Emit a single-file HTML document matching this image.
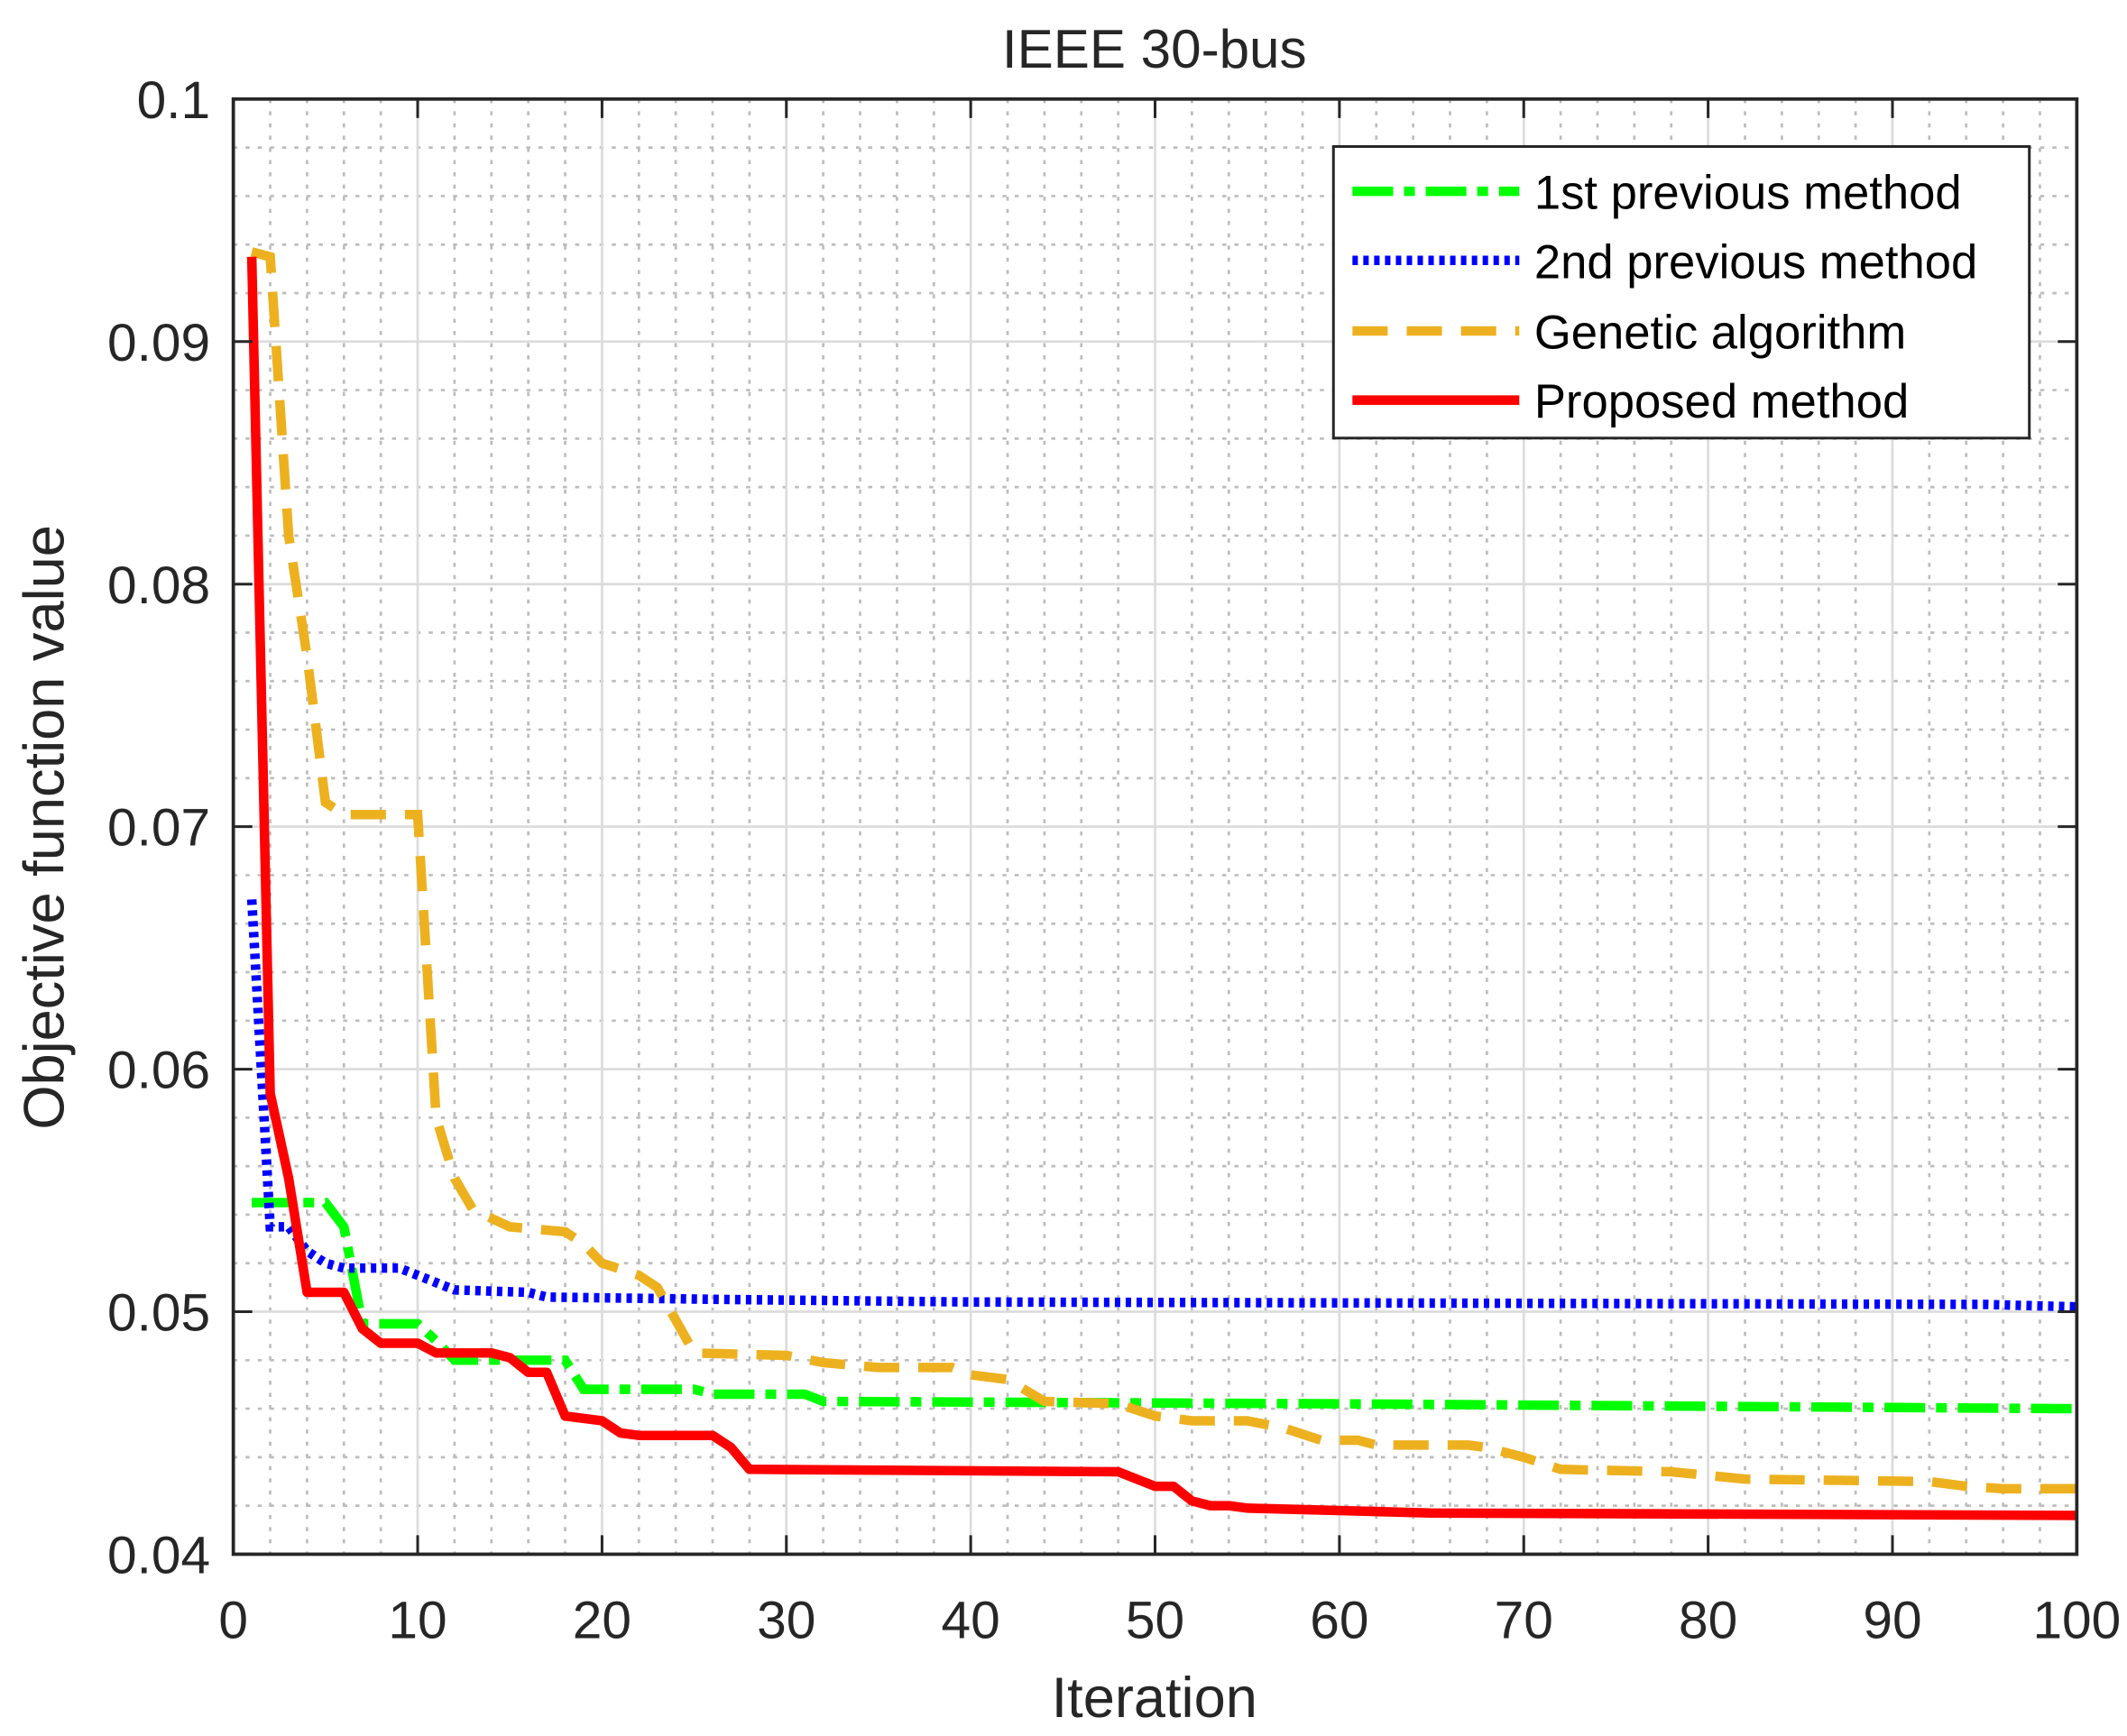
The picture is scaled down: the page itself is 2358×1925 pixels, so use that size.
<!DOCTYPE html>
<html><head><meta charset="utf-8"><style>html,body{margin:0;padding:0;background:#fff}svg{display:block}</style></head>
<body>
<svg id="s" width="2358" height="1925" viewBox="0 0 1568 1280" font-family="Liberation Sans, Arial, sans-serif">
<rect width="1568" height="1280" fill="#fff"/>
<g id="grid"></g>
<g id="series"></g>
<rect x="172" y="73" width="1359" height="1073" fill="none" stroke="#262626" stroke-width="2.5"/>
<g id="ticks"></g>
<text x="851" y="50" font-size="40" text-anchor="middle" fill="#262626">IEEE 30-bus</text>
<text x="851" y="1266" font-size="42" text-anchor="middle" fill="#262626">Iteration</text>
<text transform="translate(47,610) rotate(-90)" font-size="42" text-anchor="middle" fill="#262626">Objective function value</text>
<g>
<rect x="983" y="108" width="513" height="215" fill="#fff" stroke="#262626" stroke-width="2"/>
<line x1="997" y1="141" x2="1120" y2="141" stroke="#00ff00" stroke-width="7" stroke-dasharray="30,8,8,8"/>
<line x1="997" y1="192" x2="1120" y2="192" stroke="#0000ff" stroke-width="7" stroke-dasharray="4,4"/>
<line x1="997" y1="244" x2="1120" y2="244" stroke="#edb120" stroke-width="7" stroke-dasharray="26,14"/>
<line x1="997" y1="295" x2="1120" y2="295" stroke="#ff0000" stroke-width="7"/>
<text x="1131" y="154" font-size="35" fill="#000">1st previous method</text>
<text x="1131" y="205" font-size="35" fill="#000">2nd previous method</text>
<text x="1131" y="257" font-size="35" fill="#000">Genetic algorithm</text>
<text x="1131" y="308" font-size="35" fill="#000">Proposed method</text>
</g>
</svg>
<script>
var NS="http://www.w3.org/2000/svg";
function X(i){return 172+i*13.59;}
function Y(v){return 1146-(v-0.04)*17883;}
function el(p,t,a){var e=document.createElementNS(NS,t);for(var k in a)e.setAttribute(k,a[k]);p.appendChild(e);return e;}
var g=document.getElementById('grid'),tk=document.getElementById('ticks'),sr=document.getElementById('series');
for(var i=2;i<100;i+=2){if(i%10)el(g,'line',{x1:X(i),x2:X(i),y1:73,y2:1146,stroke:'#bdbdbd','stroke-width':1.8,'stroke-dasharray':'3,6'});}
for(var k=1;k<30;k++){if(k%5){var v=0.04+k*0.002;el(g,'line',{x1:172,x2:1531,y1:Y(v),y2:Y(v),stroke:'#bdbdbd','stroke-width':1.8,'stroke-dasharray':'3,6'});}}
for(var i=10;i<100;i+=10)el(g,'line',{x1:X(i),x2:X(i),y1:73,y2:1146,stroke:'#dcdcdc','stroke-width':1.8});
for(var k=1;k<6;k++){var v=0.04+k*0.01;el(g,'line',{x1:172,x2:1531,y1:Y(v),y2:Y(v),stroke:'#dcdcdc','stroke-width':1.8});}
for(var i=0;i<=100;i+=10){el(tk,'line',{x1:X(i),x2:X(i),y1:1146,y2:1132,stroke:'#262626','stroke-width':2});el(tk,'line',{x1:X(i),x2:X(i),y1:73,y2:87,stroke:'#262626','stroke-width':2});
var t=el(tk,'text',{x:X(i),y:1208,'font-size':39,'text-anchor':'middle',fill:'#262626'});t.textContent=i;}
var lab=['0.04','0.05','0.06','0.07','0.08','0.09','0.1'];
for(var k=0;k<=6;k++){var y=Y(0.04+k*0.01);el(tk,'line',{x1:172,x2:186,y1:y,y2:y,stroke:'#262626','stroke-width':2});el(tk,'line',{x1:1531,x2:1517,y1:y,y2:y,stroke:'#262626','stroke-width':2});
var t=el(tk,'text',{x:155,y:y+14,'font-size':39,'text-anchor':'end',fill:'#262626'});t.textContent=lab[k];}
function P(d){return d.map(function(p){return X(p[0]).toFixed(1)+','+Y(p[1]).toFixed(1)}).join(' ');}
var yel=[[1,0.0937],[2,0.0935],[3,0.082],[4,0.077],[5,0.071],[6,0.0705],[10,0.0705],[11,0.058],[12,0.0555],[13,0.0542],[15,0.0535],[18,0.0533],[19,0.0528],[20,0.052],[22,0.0515],[23,0.051],[25,0.0483],[30,0.0482],[32,0.0479],[35,0.0477],[39,0.0477],[40,0.0474],[42,0.0472],[44,0.0463],[48,0.0462],[50,0.0457],[52,0.0455],[55,0.0455],[57,0.0452],[59,0.0447],[61,0.0447],[62,0.0445],[67,0.0445],[68,0.0444],[70,0.044],[72,0.0435],[78,0.0434],[82,0.0431],[92,0.043],[94,0.0428],[96,0.0427],[100,0.0427]];
var grn=[[1,0.0545],[5,0.0545],[6,0.0535],[7,0.0495],[10,0.0495],[11,0.0488],[12,0.048],[18,0.048],[19,0.0468],[25,0.0468],[26,0.0466],[31,0.0466],[32,0.0463],[60,0.0462],[100,0.046]];
var blu=[[1,0.067],[2,0.0535],[3,0.0535],[4,0.0525],[5,0.052],[6,0.0518],[9,0.0518],[10,0.0515],[11,0.0512],[12,0.0509],[16,0.0508],[17,0.0506],[27,0.0505],[40,0.0504],[95,0.0503],[100,0.0502]];
var red=[[1,0.0935],[2,0.059],[3,0.0555],[4,0.0508],[6,0.0508],[7,0.0493],[8,0.0487],[10,0.0487],[11,0.0483],[14,0.0483],[15,0.0481],[16,0.0475],[17,0.0475],[18,0.0457],[20,0.0455],[21,0.045],[22,0.0449],[26,0.0449],[27,0.0444],[28,0.0435],[48,0.0434],[50,0.0428],[51,0.0428],[52,0.0422],[53,0.042],[54,0.042],[55,0.0419],[60,0.0418],[65,0.0417],[100,0.0416]];
el(sr,'polyline',{points:P(grn),fill:'none',stroke:'#00ff00','stroke-width':7,'stroke-dasharray':'30,8,8,8'});
el(sr,'polyline',{points:P(blu),fill:'none',stroke:'#0000ff','stroke-width':7,'stroke-dasharray':'4,4'});
el(sr,'polyline',{points:P(yel),fill:'none',stroke:'#edb120','stroke-width':7,'stroke-dasharray':'26,14'});
el(sr,'polyline',{points:P(red),fill:'none',stroke:'#ff0000','stroke-width':7,'stroke-linejoin':'round'});
</script>
</body></html>
